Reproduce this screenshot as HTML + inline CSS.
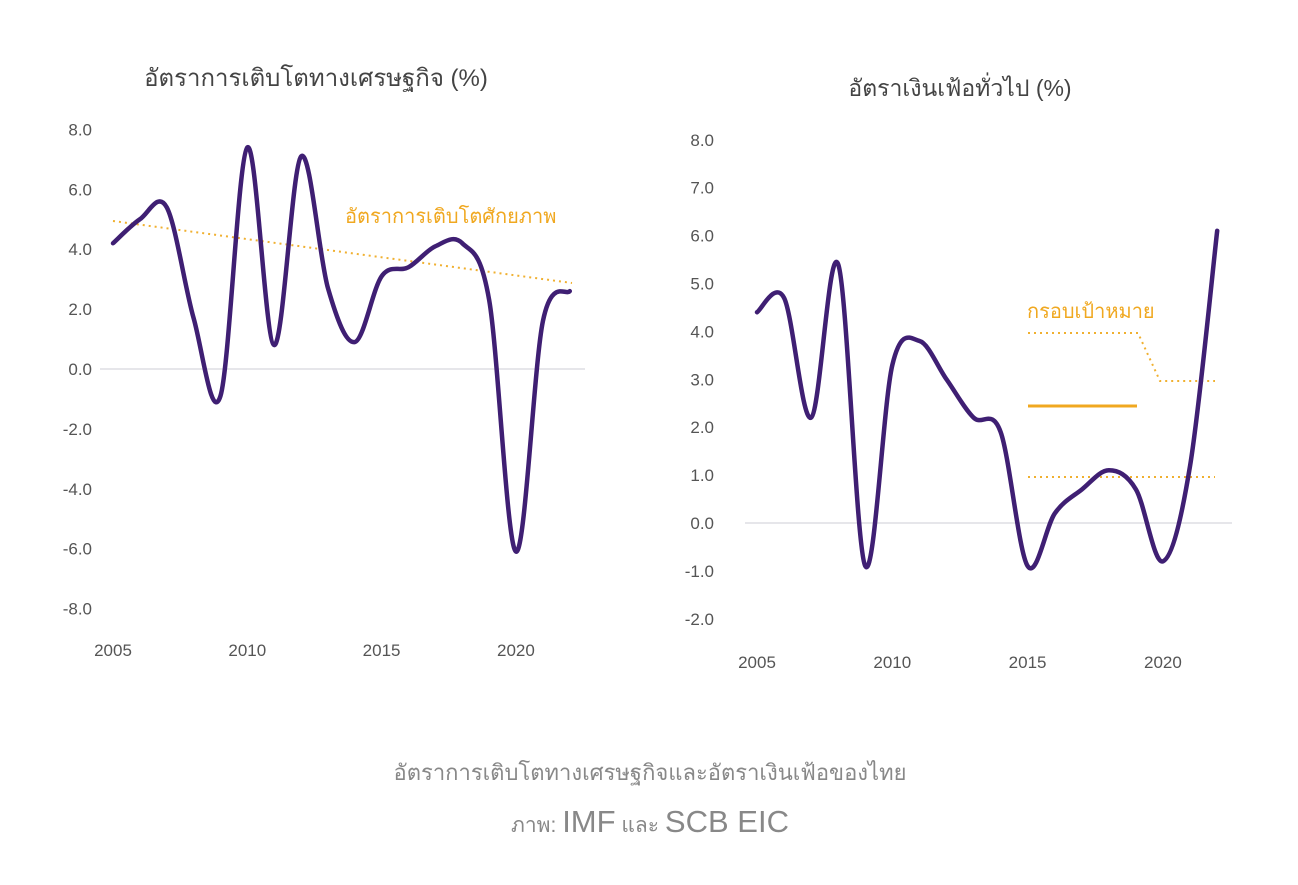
<!DOCTYPE html>
<html><head><meta charset="utf-8">
<style>
body{margin:0;background:#fff;width:1298px;height:880px;overflow:hidden;font-family:"Liberation Sans","DejaVu Sans",sans-serif}
svg text{font-family:"Liberation Sans","DejaVu Sans",sans-serif}
</style></head><body>
<svg id="s" width="1298" height="880" xmlns="http://www.w3.org/2000/svg">
<g fill="#444" font-size="17">
<text x="316" y="86" text-anchor="middle" font-size="24">อัตราการเติบโตทางเศรษฐกิจ (%)</text>
<text x="960" y="96" text-anchor="middle" font-size="23">อัตราเงินเฟ้อทั่วไป (%)</text>
</g>
<g id="ax" fill="#555" font-size="17"></g>
<line x1="100" y1="369" x2="585" y2="369" stroke="#e6e6ea" stroke-width="2"/>
<line x1="745" y1="523" x2="1232" y2="523" stroke="#e6e6ea" stroke-width="2"/>
<line x1="113" y1="221" x2="572" y2="283" stroke="#f0b030" stroke-width="2" stroke-dasharray="2,4"/>
<text x="345" y="223" fill="#f0a820" font-size="20">อัตราการเติบโตศักยภาพ</text>
<text x="1027" y="318" fill="#f0a820" font-size="20">กรอบเป้าหมาย</text>
<polyline points="1028,333 1138,333 1160,381 1215,381" fill="none" stroke="#f0b030" stroke-width="2" stroke-dasharray="2,4"/>
<line x1="1028" y1="477" x2="1215" y2="477" stroke="#f0b030" stroke-width="2" stroke-dasharray="2,4"/>
<line x1="1028" y1="406" x2="1137" y2="406" stroke="#f0a820" stroke-width="3"/>
<path id="p1" fill="none" stroke="#3f1f73" stroke-width="4.5" stroke-linecap="round"/>
<path id="p2" fill="none" stroke="#3f1f73" stroke-width="4.5" stroke-linecap="round"/>
<text x="650" y="780" text-anchor="middle" fill="#888" font-size="22" font-family="Liberation Serif,serif">อัตราการเติบโตทางเศรษฐกิจและอัตราเงินเฟ้อของไทย</text>
<text x="650" y="832" text-anchor="middle" fill="#888" font-size="21" font-family="Liberation Serif,serif">ภาพ: <tspan font-family="Liberation Sans" font-size="31">IMF</tspan> และ <tspan font-family="Liberation Sans" font-size="31">SCB EIC</tspan></text>
</svg>
<script>
function path(vals,x0,dx,y0,dy){
 var p=vals.map(function(v,i){return [x0+i*dx,y0-v*dy]});
 var d="M"+p[0][0]+","+p[0][1];
 for(var i=0;i<p.length-1;i++){
  var a=p[Math.max(0,i-1)],b=p[i],c=p[i+1],e=p[Math.min(p.length-1,i+2)];
  var c1=[b[0]+(c[0]-a[0])/6,b[1]+(c[1]-a[1])/6],c2=[c[0]-(e[0]-b[0])/6,c[1]-(e[1]-b[1])/6];
  d+=" C"+c1+" "+c2+" "+c;
 }
 return d;
}
document.getElementById('p1').setAttribute('d',path([4.2,5.0,5.4,1.7,-0.9,7.4,0.8,7.1,2.7,0.9,3.1,3.4,4.1,4.2,2.3,-6.1,1.6,2.6],113,26.87,369,29.94));
document.getElementById('p2').setAttribute('d',path([4.4,4.7,2.2,5.4,-0.9,3.3,3.8,3.0,2.2,1.9,-0.9,0.2,0.7,1.1,0.7,-0.8,1.2,6.1],757,27.07,523,47.9));
var g=document.getElementById('ax'),h="";
for(var v=8;v>=-8;v-=2){h+='<text x="92" y="'+(369-v*29.94+6)+'" text-anchor="end">'+v.toFixed(1)+'</text>';}
for(var v=8;v>=-2;v-=1){h+='<text x="714" y="'+(523-v*47.9+6)+'" text-anchor="end">'+v.toFixed(1)+'</text>';}
[2005,2010,2015,2020].forEach(function(y,i){h+='<text x="'+(113+i*134.3)+'" y="656" text-anchor="middle">'+y+'</text>';h+='<text x="'+(757+i*135.3)+'" y="668" text-anchor="middle">'+y+'</text>';});
g.innerHTML=h;
</script>
</body></html>
